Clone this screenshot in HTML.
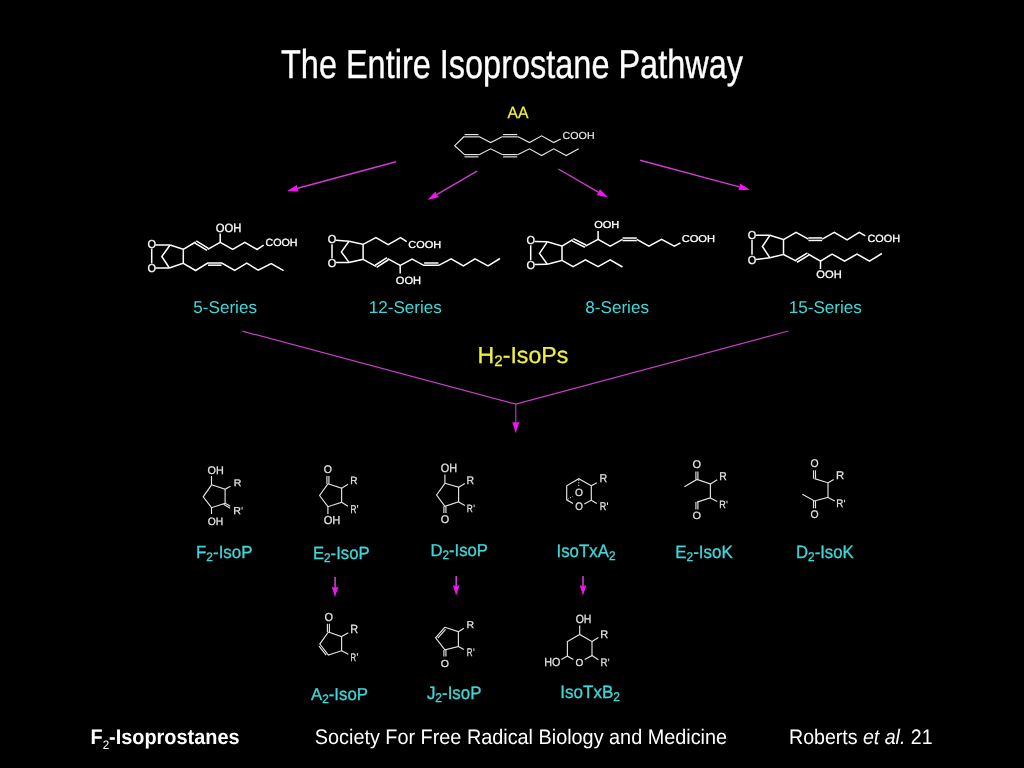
<!DOCTYPE html>
<html><head><meta charset="utf-8"><title>The Entire Isoprostane Pathway</title>
<style>
html,body{margin:0;padding:0;background:#000;width:1024px;height:768px;overflow:hidden}
svg{display:block;will-change:transform}
text{font-family:"Liberation Sans",sans-serif;text-rendering:geometricPrecision}
</style></head><body>
<svg width="1024" height="768" viewBox="0 0 1024 768">
<rect width="1024" height="768" fill="#000"/>
<text x="281.0" y="77.7" font-size="40.5" fill="#fff" stroke="#fff" stroke-width="0.35" textLength="462" lengthAdjust="spacingAndGlyphs">The Entire Isoprostane Pathway</text>
<text x="507.47" y="118.40" font-size="16.28" fill="#f0f040" textLength="20.96" lengthAdjust="spacingAndGlyphs" stroke="#f0f040" stroke-width="0.25">AA</text>
<polyline points="464.10,136.50 454.70,145.70 464.50,154.70" fill="none" stroke="#e4e4e4" stroke-width="1.15" />
<polyline points="478.90,136.50 490.60,142.60 502.70,136.50" fill="none" stroke="#e4e4e4" stroke-width="1.15" />
<polyline points="517.60,136.50 529.50,142.60 541.60,135.80 553.70,142.60 560.70,139.10" fill="none" stroke="#e4e4e4" stroke-width="1.15" />
<polyline points="479.00,154.70 490.60,148.80 502.70,154.70" fill="none" stroke="#e4e4e4" stroke-width="1.15" />
<polyline points="517.60,154.70 529.50,148.80 541.60,155.50 553.70,148.80 566.20,155.50 578.70,148.80" fill="none" stroke="#e4e4e4" stroke-width="1.15" />
<line x1="464.50" y1="134.60" x2="478.50" y2="134.60" stroke="#e4e4e4" stroke-width="1.15" />
<line x1="464.10" y1="136.80" x2="478.90" y2="136.80" stroke="#b0b0b0" stroke-width="1.5" />
<line x1="464.10" y1="154.60" x2="478.90" y2="154.60" stroke="#e4e4e4" stroke-width="1.15" />
<line x1="464.50" y1="156.80" x2="478.50" y2="156.80" stroke="#b0b0b0" stroke-width="1.5" />
<line x1="503.10" y1="134.60" x2="517.20" y2="134.60" stroke="#e4e4e4" stroke-width="1.15" />
<line x1="502.70" y1="136.80" x2="517.60" y2="136.80" stroke="#b0b0b0" stroke-width="1.5" />
<line x1="502.70" y1="154.60" x2="517.60" y2="154.60" stroke="#e4e4e4" stroke-width="1.15" />
<line x1="503.10" y1="156.80" x2="517.20" y2="156.80" stroke="#b0b0b0" stroke-width="1.5" />
<text x="562.63" y="138.90" font-size="10.10" fill="#e4e4e4" textLength="31.96" lengthAdjust="spacingAndGlyphs" stroke="#e4e4e4" stroke-width="0.2">COOH</text>
<line x1="396.00" y1="161.80" x2="296.75" y2="188.48" stroke="#d23ad2" stroke-width="1.4" />
<polygon points="287.00,191.10 296.93,184.91 297.24,188.35 298.70,191.48" fill="#f014f0"/>
<line x1="477.00" y1="171.20" x2="436.23" y2="194.92" stroke="#d23ad2" stroke-width="1.4" />
<polygon points="427.50,200.00 435.47,191.43 436.66,194.67 438.89,197.31" fill="#f014f0"/>
<line x1="558.30" y1="169.00" x2="599.15" y2="192.55" stroke="#d23ad2" stroke-width="1.4" />
<polygon points="607.90,197.60 596.50,194.95 598.72,192.31 599.90,189.06" fill="#f014f0"/>
<line x1="640.10" y1="160.30" x2="740.25" y2="187.18" stroke="#d23ad2" stroke-width="1.4" />
<polygon points="750.00,189.80 738.30,190.18 739.76,187.05 740.06,183.61" fill="#f014f0"/>
<text x="147.43" y="247.59" font-size="11.58" fill="#ffffff" textLength="8.55" lengthAdjust="spacingAndGlyphs" stroke="#ffffff" stroke-width="0.3">O</text>
<text x="147.43" y="272.29" font-size="11.58" fill="#ffffff" textLength="8.55" lengthAdjust="spacingAndGlyphs" stroke="#ffffff" stroke-width="0.3">O</text>
<line x1="151.70" y1="248.60" x2="151.70" y2="263.40" stroke="#ffffff" stroke-width="1.5" />
<line x1="155.40" y1="244.90" x2="170.10" y2="245.00" stroke="#ffffff" stroke-width="1.5" />
<line x1="155.40" y1="268.00" x2="169.40" y2="268.00" stroke="#ffffff" stroke-width="1.5" />
<polyline points="170.10,245.00 161.80,256.50 169.40,268.00" fill="none" stroke="#ffffff" stroke-width="1.5" />
<polyline points="170.10,245.00 183.30,249.30 183.30,263.30 169.40,268.00" fill="none" stroke="#ffffff" stroke-width="1.5" />
<polyline points="183.30,249.30 195.60,242.00" fill="none" stroke="#ffffff" stroke-width="1.5" />
<line x1="194.95" y1="243.07" x2="207.05" y2="250.47" stroke="#ffffff" stroke-width="1.5" />
<line x1="196.25" y1="240.93" x2="208.35" y2="248.33" stroke="#ffffff" stroke-width="1.5" />
<polyline points="207.70,249.40 220.20,242.30 232.70,249.40 244.80,242.30 257.00,249.50 263.70,245.20" fill="none" stroke="#ffffff" stroke-width="1.5" />
<line x1="220.20" y1="242.30" x2="220.20" y2="233.40" stroke="#ffffff" stroke-width="1.5" />
<text x="215.74" y="231.80" font-size="11.99" fill="#ffffff" textLength="25.60" lengthAdjust="spacingAndGlyphs" stroke="#ffffff" stroke-width="0.3">OOH</text>
<text x="265.43" y="245.70" font-size="10.39" fill="#ffffff" textLength="32.17" lengthAdjust="spacingAndGlyphs" stroke="#ffffff" stroke-width="0.3">COOH</text>
<polyline points="183.30,263.30 195.60,270.50 207.70,263.00 221.80,263.00 234.70,270.50 246.80,263.20 258.20,270.10 271.20,263.50 283.60,270.60" fill="none" stroke="#ffffff" stroke-width="1.5" />
<line x1="208.00" y1="265.20" x2="221.50" y2="265.20" stroke="#ffffff" stroke-width="1.5" />
<text x="327.73" y="243.09" font-size="11.58" fill="#ffffff" textLength="8.55" lengthAdjust="spacingAndGlyphs" stroke="#ffffff" stroke-width="0.3">O</text>
<text x="327.73" y="267.29" font-size="11.58" fill="#ffffff" textLength="8.55" lengthAdjust="spacingAndGlyphs" stroke="#ffffff" stroke-width="0.3">O</text>
<line x1="332.00" y1="244.20" x2="332.00" y2="258.30" stroke="#ffffff" stroke-width="1.5" />
<line x1="335.80" y1="240.20" x2="349.00" y2="241.20" stroke="#ffffff" stroke-width="1.5" />
<line x1="335.80" y1="262.60" x2="349.00" y2="262.40" stroke="#ffffff" stroke-width="1.5" />
<polyline points="349.00,241.20 341.40,251.90 349.00,262.40" fill="none" stroke="#ffffff" stroke-width="1.5" />
<polyline points="349.00,241.20 363.10,244.30 363.10,259.30 349.00,262.40" fill="none" stroke="#ffffff" stroke-width="1.5" />
<polyline points="363.10,244.30 375.90,237.70 388.20,244.70 400.50,237.60 406.70,241.70" fill="none" stroke="#ffffff" stroke-width="1.5" />
<text x="408.32" y="247.60" font-size="10.10" fill="#ffffff" textLength="32.80" lengthAdjust="spacingAndGlyphs" stroke="#ffffff" stroke-width="0.3">COOH</text>
<polyline points="363.10,259.30 375.90,266.30" fill="none" stroke="#ffffff" stroke-width="1.5" />
<line x1="376.58" y1="267.35" x2="388.38" y2="259.75" stroke="#ffffff" stroke-width="1.5" />
<line x1="375.22" y1="265.25" x2="387.02" y2="257.65" stroke="#ffffff" stroke-width="1.5" />
<polyline points="387.70,258.70 400.20,265.30 412.10,259.20 423.80,265.30 438.80,265.30 451.10,258.90 463.40,266.00 475.00,258.90 488.00,266.00 500.00,258.50" fill="none" stroke="#ffffff" stroke-width="1.5" />
<line x1="424.10" y1="263.00" x2="438.50" y2="263.00" stroke="#ffffff" stroke-width="1.5" />
<line x1="400.20" y1="265.30" x2="400.20" y2="273.50" stroke="#ffffff" stroke-width="1.5" />
<text x="395.75" y="283.50" font-size="10.54" fill="#ffffff" textLength="25.28" lengthAdjust="spacingAndGlyphs" stroke="#ffffff" stroke-width="0.3">OOH</text>
<text x="526.43" y="244.29" font-size="11.58" fill="#ffffff" textLength="8.55" lengthAdjust="spacingAndGlyphs" stroke="#ffffff" stroke-width="0.3">O</text>
<text x="526.43" y="269.09" font-size="11.58" fill="#ffffff" textLength="8.55" lengthAdjust="spacingAndGlyphs" stroke="#ffffff" stroke-width="0.3">O</text>
<line x1="530.70" y1="245.30" x2="530.70" y2="260.10" stroke="#ffffff" stroke-width="1.5" />
<line x1="534.60" y1="241.50" x2="547.30" y2="241.80" stroke="#ffffff" stroke-width="1.5" />
<line x1="534.60" y1="264.50" x2="547.30" y2="264.30" stroke="#ffffff" stroke-width="1.5" />
<polyline points="547.30,241.80 539.50,253.40 547.30,264.30" fill="none" stroke="#ffffff" stroke-width="1.5" />
<polyline points="547.30,241.80 562.00,246.10 562.00,260.40 547.30,264.30" fill="none" stroke="#ffffff" stroke-width="1.5" />
<polyline points="562.00,246.10 572.70,239.70" fill="none" stroke="#ffffff" stroke-width="1.5" />
<line x1="572.14" y1="240.82" x2="584.84" y2="247.22" stroke="#ffffff" stroke-width="1.5" />
<line x1="573.26" y1="238.58" x2="585.96" y2="244.98" stroke="#ffffff" stroke-width="1.5" />
<polyline points="585.40,246.10 598.10,239.30 610.20,246.10 622.50,239.30" fill="none" stroke="#ffffff" stroke-width="1.5" />
<line x1="622.50" y1="240.55" x2="636.80" y2="240.55" stroke="#ffffff" stroke-width="1.5" />
<line x1="622.50" y1="238.05" x2="636.80" y2="238.05" stroke="#ffffff" stroke-width="1.5" />
<polyline points="636.80,239.30 648.90,246.10 661.60,239.30 674.30,246.10 680.50,242.80" fill="none" stroke="#ffffff" stroke-width="1.5" />
<line x1="598.10" y1="239.30" x2="598.10" y2="231.10" stroke="#ffffff" stroke-width="1.5" />
<text x="594.25" y="228.00" font-size="10.10" fill="#ffffff" textLength="25.07" lengthAdjust="spacingAndGlyphs" stroke="#ffffff" stroke-width="0.3">OOH</text>
<text x="681.71" y="242.20" font-size="9.96" fill="#ffffff" textLength="33.32" lengthAdjust="spacingAndGlyphs" stroke="#ffffff" stroke-width="0.3">COOH</text>
<polyline points="562.00,260.40 573.10,266.60 585.40,259.80 598.10,266.60 610.20,259.80 622.50,267.00" fill="none" stroke="#ffffff" stroke-width="1.5" />
<text x="747.73" y="238.89" font-size="11.58" fill="#ffffff" textLength="8.55" lengthAdjust="spacingAndGlyphs" stroke="#ffffff" stroke-width="0.3">O</text>
<text x="747.73" y="263.79" font-size="11.58" fill="#ffffff" textLength="8.55" lengthAdjust="spacingAndGlyphs" stroke="#ffffff" stroke-width="0.3">O</text>
<line x1="752.00" y1="239.90" x2="752.00" y2="254.80" stroke="#ffffff" stroke-width="1.5" />
<line x1="756.00" y1="235.20" x2="769.90" y2="235.30" stroke="#ffffff" stroke-width="1.5" />
<line x1="756.00" y1="259.50" x2="769.90" y2="257.80" stroke="#ffffff" stroke-width="1.5" />
<polyline points="769.90,235.30 762.40,246.50 769.90,257.80" fill="none" stroke="#ffffff" stroke-width="1.5" />
<polyline points="769.90,235.30 783.50,239.60 783.50,254.50 769.90,257.80" fill="none" stroke="#ffffff" stroke-width="1.5" />
<polyline points="783.50,239.60 796.10,232.40 808.40,239.20" fill="none" stroke="#ffffff" stroke-width="1.5" />
<line x1="808.40" y1="240.45" x2="822.20" y2="240.45" stroke="#ffffff" stroke-width="1.5" />
<line x1="808.40" y1="237.95" x2="822.20" y2="237.95" stroke="#ffffff" stroke-width="1.5" />
<polyline points="822.20,239.20 834.30,232.40 847.10,239.90 859.20,232.40 865.30,235.80" fill="none" stroke="#ffffff" stroke-width="1.5" />
<text x="867.42" y="242.40" font-size="10.39" fill="#ffffff" textLength="32.69" lengthAdjust="spacingAndGlyphs" stroke="#ffffff" stroke-width="0.3">COOH</text>
<polyline points="783.50,254.50 796.40,261.20" fill="none" stroke="#ffffff" stroke-width="1.5" />
<line x1="797.06" y1="262.26" x2="808.76" y2="255.06" stroke="#ffffff" stroke-width="1.5" />
<line x1="795.74" y1="260.14" x2="807.44" y2="252.94" stroke="#ffffff" stroke-width="1.5" />
<polyline points="808.10,254.00 820.50,261.20 832.10,254.00 844.60,261.20 857.00,254.00 869.50,261.20 881.90,253.50" fill="none" stroke="#ffffff" stroke-width="1.5" />
<line x1="820.50" y1="261.20" x2="820.50" y2="269.00" stroke="#ffffff" stroke-width="1.5" />
<text x="816.35" y="278.40" font-size="10.83" fill="#ffffff" textLength="25.39" lengthAdjust="spacingAndGlyphs" stroke="#ffffff" stroke-width="0.3">OOH</text>
<text x="193.3" y="312.8" font-size="17.1" fill="#3ed8da">5-Series</text>
<text x="368.7" y="312.8" font-size="17.1" fill="#3ed8da">12-Series</text>
<text x="585.3" y="312.8" font-size="17.1" fill="#3ed8da">8-Series</text>
<text x="788.7" y="312.8" font-size="17.1" fill="#3ed8da">15-Series</text>
<polyline points="242.30,331.10 515.80,404.20 788.40,331.00" fill="none" stroke="#c83cc8" stroke-width="1.2" />
<line x1="515.80" y1="404.20" x2="515.80" y2="422.80" stroke="#c83cc8" stroke-width="1.1" />
<polygon points="515.80,433.30 512.30,422.30 515.80,422.30 519.30,422.30" fill="#f014f0"/>
<text x="477.6" y="363.4" font-size="23.1" fill="#f0f040" stroke="#f0f040" stroke-width="0.25">H<tspan font-size="15.2" dy="2.6">2</tspan><tspan dy="-2.6">-IsoPs</tspan></text>
<text x="207.56" y="473.80" font-size="10.97" fill="#e4e4e4" textLength="16.25" lengthAdjust="spacingAndGlyphs" stroke="#e4e4e4" stroke-width="0.25">OH</text>
<line x1="211.50" y1="476.00" x2="211.50" y2="484.80" stroke="#e4e4e4" stroke-width="1.15" />
<polyline points="211.50,484.80 225.10,489.20 225.10,503.30 211.50,507.70 203.20,496.80 211.50,484.80" fill="none" stroke="#e4e4e4" stroke-width="1.15" />
<line x1="225.10" y1="489.20" x2="230.50" y2="486.20" stroke="#e4e4e4" stroke-width="1.15" />
<text x="233.71" y="485.50" font-size="9.52" fill="#e4e4e4" textLength="7.60" lengthAdjust="spacingAndGlyphs" stroke="#e4e4e4" stroke-width="0.25">R</text>
<line x1="225.10" y1="503.30" x2="230.30" y2="506.30" stroke="#e4e4e4" stroke-width="1.15" />
<line x1="223.56" y1="504.37" x2="230.14" y2="508.17" stroke="#e4e4e4" stroke-width="1.15" />
<text x="233.20" y="513.60" font-size="9.96" fill="#e4e4e4" textLength="7.72" lengthAdjust="spacingAndGlyphs" stroke="#e4e4e4" stroke-width="0.25">R</text>
<line x1="242.10" y1="506.90" x2="242.10" y2="509.60" stroke="#e4e4e4" stroke-width="1.0" />
<line x1="211.50" y1="507.70" x2="211.50" y2="514.00" stroke="#e4e4e4" stroke-width="1.15" />
<text x="207.79" y="525.10" font-size="10.68" fill="#e4e4e4" textLength="15.48" lengthAdjust="spacingAndGlyphs" stroke="#e4e4e4" stroke-width="0.25">OH</text>
<text x="323.70" y="473.19" font-size="11.02" fill="#e4e4e4" textLength="8.20" lengthAdjust="spacingAndGlyphs" stroke="#e4e4e4" stroke-width="0.25">O</text>
<line x1="326.90" y1="476.00" x2="326.90" y2="483.80" stroke="#e4e4e4" stroke-width="1.15" />
<line x1="328.90" y1="476.00" x2="328.90" y2="483.80" stroke="#e4e4e4" stroke-width="1.15" />
<polyline points="327.90,483.80 341.60,488.20 341.60,502.30 327.90,506.70 319.60,495.50 327.90,483.80" fill="none" stroke="#e4e4e4" stroke-width="1.15" />
<line x1="341.60" y1="488.20" x2="348.00" y2="484.30" stroke="#e4e4e4" stroke-width="1.15" />
<text x="350.25" y="484.30" font-size="10.54" fill="#e4e4e4" textLength="7.24" lengthAdjust="spacingAndGlyphs" stroke="#e4e4e4" stroke-width="0.25">R</text>
<line x1="341.60" y1="502.30" x2="348.00" y2="506.30" stroke="#e4e4e4" stroke-width="1.15" />
<text x="350.40" y="512.60" font-size="11.26" fill="#e4e4e4" textLength="5.90" lengthAdjust="spacingAndGlyphs" stroke="#e4e4e4" stroke-width="0.25">R</text>
<line x1="357.60" y1="505.00" x2="357.60" y2="507.70" stroke="#e4e4e4" stroke-width="1.0" />
<line x1="327.90" y1="506.70" x2="327.90" y2="514.00" stroke="#e4e4e4" stroke-width="1.15" />
<text x="323.64" y="523.80" font-size="11.56" fill="#e4e4e4" textLength="16.79" lengthAdjust="spacingAndGlyphs" stroke="#e4e4e4" stroke-width="0.25">OH</text>
<text x="440.66" y="472.10" font-size="11.99" fill="#e4e4e4" textLength="16.36" lengthAdjust="spacingAndGlyphs" stroke="#e4e4e4" stroke-width="0.25">OH</text>
<line x1="444.90" y1="474.50" x2="444.90" y2="483.30" stroke="#e4e4e4" stroke-width="1.15" />
<polyline points="444.90,483.30 458.60,487.20 458.60,501.90 444.90,506.30 436.60,495.00 444.90,483.30" fill="none" stroke="#e4e4e4" stroke-width="1.15" />
<line x1="458.60" y1="487.20" x2="464.90" y2="483.50" stroke="#e4e4e4" stroke-width="1.15" />
<text x="466.61" y="483.80" font-size="10.97" fill="#e4e4e4" textLength="7.60" lengthAdjust="spacingAndGlyphs" stroke="#e4e4e4" stroke-width="0.25">R</text>
<line x1="458.60" y1="501.90" x2="464.90" y2="505.60" stroke="#e4e4e4" stroke-width="1.15" />
<text x="466.79" y="511.60" font-size="10.54" fill="#e4e4e4" textLength="6.02" lengthAdjust="spacingAndGlyphs" stroke="#e4e4e4" stroke-width="0.25">R</text>
<line x1="474.10" y1="504.50" x2="474.10" y2="507.20" stroke="#e4e4e4" stroke-width="1.0" />
<line x1="443.90" y1="506.30" x2="443.90" y2="513.10" stroke="#e4e4e4" stroke-width="1.15" />
<line x1="445.90" y1="506.30" x2="445.90" y2="513.10" stroke="#e4e4e4" stroke-width="1.15" />
<text x="440.69" y="522.99" font-size="11.16" fill="#e4e4e4" textLength="8.43" lengthAdjust="spacingAndGlyphs" stroke="#e4e4e4" stroke-width="0.25">O</text>
<polyline points="573.00,503.40 566.70,499.80 566.70,485.80 578.80,478.75 591.30,485.80 591.30,500.20 584.30,504.10" fill="none" stroke="#e4e4e4" stroke-width="1.15" />
<text x="575.14" y="510.49" font-size="11.02" fill="#e4e4e4" textLength="7.63" lengthAdjust="spacingAndGlyphs" stroke="#e4e4e4" stroke-width="0.25">O</text>
<line x1="591.30" y1="485.80" x2="596.80" y2="482.70" stroke="#e4e4e4" stroke-width="1.15" />
<text x="599.60" y="481.90" font-size="11.41" fill="#e4e4e4" textLength="7.72" lengthAdjust="spacingAndGlyphs" stroke="#e4e4e4" stroke-width="0.25">R</text>
<line x1="591.30" y1="500.20" x2="596.80" y2="503.40" stroke="#e4e4e4" stroke-width="1.15" />
<text x="599.74" y="510.00" font-size="11.41" fill="#e4e4e4" textLength="6.51" lengthAdjust="spacingAndGlyphs" stroke="#e4e4e4" stroke-width="0.25">R</text>
<line x1="607.50" y1="502.30" x2="607.50" y2="505.00" stroke="#e4e4e4" stroke-width="1.0" />
<text x="575.01" y="496.00" font-size="10.45" fill="#e4e4e4" textLength="7.98" lengthAdjust="spacingAndGlyphs" stroke="#e4e4e4" stroke-width="0.25">O</text>
<line x1="578.8" y1="479.6" x2="578.8" y2="487.4" stroke="#e4e4e4" stroke-width="1" stroke-dasharray="1.2 1.4"/>
<line x1="567.6" y1="499.3" x2="572.6" y2="496.6" stroke="#e4e4e4" stroke-width="1" stroke-dasharray="1.2 1.4"/>
<text x="692.58" y="468.19" font-size="11.16" fill="#e4e4e4" textLength="8.55" lengthAdjust="spacingAndGlyphs" stroke="#e4e4e4" stroke-width="0.25">O</text>
<line x1="695.90" y1="471.40" x2="695.90" y2="479.40" stroke="#e4e4e4" stroke-width="1.15" />
<line x1="697.90" y1="471.40" x2="697.90" y2="479.40" stroke="#e4e4e4" stroke-width="1.15" />
<polyline points="684.40,486.70 696.90,479.40 710.40,483.90 710.40,497.90 696.90,502.10" fill="none" stroke="#e4e4e4" stroke-width="1.15" />
<line x1="710.40" y1="483.90" x2="717.20" y2="479.70" stroke="#e4e4e4" stroke-width="1.15" />
<text x="719.13" y="479.70" font-size="11.26" fill="#e4e4e4" textLength="7.48" lengthAdjust="spacingAndGlyphs" stroke="#e4e4e4" stroke-width="0.25">R</text>
<line x1="710.40" y1="497.90" x2="717.20" y2="501.60" stroke="#e4e4e4" stroke-width="1.15" />
<text x="719.24" y="507.80" font-size="10.54" fill="#e4e4e4" textLength="6.51" lengthAdjust="spacingAndGlyphs" stroke="#e4e4e4" stroke-width="0.25">R</text>
<line x1="727.00" y1="500.70" x2="727.00" y2="503.40" stroke="#e4e4e4" stroke-width="1.0" />
<line x1="695.90" y1="502.10" x2="695.90" y2="509.40" stroke="#e4e4e4" stroke-width="1.15" />
<line x1="697.90" y1="502.10" x2="697.90" y2="509.40" stroke="#e4e4e4" stroke-width="1.15" />
<text x="692.58" y="519.00" font-size="10.45" fill="#e4e4e4" textLength="8.55" lengthAdjust="spacingAndGlyphs" stroke="#e4e4e4" stroke-width="0.25">O</text>
<text x="810.51" y="467.19" font-size="11.16" fill="#e4e4e4" textLength="8.09" lengthAdjust="spacingAndGlyphs" stroke="#e4e4e4" stroke-width="0.25">O</text>
<line x1="813.50" y1="470.30" x2="813.50" y2="478.60" stroke="#e4e4e4" stroke-width="1.15" />
<line x1="815.50" y1="470.30" x2="815.50" y2="478.60" stroke="#e4e4e4" stroke-width="1.15" />
<polyline points="814.50,478.60 828.00,482.80 828.00,497.40 814.50,501.00 802.30,494.30" fill="none" stroke="#e4e4e4" stroke-width="1.15" />
<line x1="828.00" y1="482.80" x2="833.75" y2="479.40" stroke="#e4e4e4" stroke-width="1.15" />
<text x="836.14" y="478.60" font-size="11.12" fill="#e4e4e4" textLength="8.21" lengthAdjust="spacingAndGlyphs" stroke="#e4e4e4" stroke-width="0.25">R</text>
<line x1="828.00" y1="497.40" x2="834.80" y2="501.00" stroke="#e4e4e4" stroke-width="1.15" />
<text x="836.27" y="507.10" font-size="10.97" fill="#e4e4e4" textLength="7.12" lengthAdjust="spacingAndGlyphs" stroke="#e4e4e4" stroke-width="0.25">R</text>
<line x1="844.60" y1="499.70" x2="844.60" y2="502.40" stroke="#e4e4e4" stroke-width="1.0" />
<line x1="813.50" y1="501.00" x2="813.50" y2="508.30" stroke="#e4e4e4" stroke-width="1.15" />
<line x1="815.50" y1="501.00" x2="815.50" y2="508.30" stroke="#e4e4e4" stroke-width="1.15" />
<text x="810.51" y="518.44" font-size="10.95" fill="#e4e4e4" textLength="8.09" lengthAdjust="spacingAndGlyphs" stroke="#e4e4e4" stroke-width="0.25">O</text>
<text x="324.48" y="621.49" font-size="11.58" fill="#e4e4e4" textLength="8.55" lengthAdjust="spacingAndGlyphs" stroke="#e4e4e4" stroke-width="0.25">O</text>
<line x1="327.40" y1="623.75" x2="327.40" y2="632.00" stroke="#e4e4e4" stroke-width="1.15" />
<line x1="329.40" y1="623.75" x2="329.40" y2="632.00" stroke="#e4e4e4" stroke-width="1.15" />
<polyline points="328.40,632.00 341.60,636.60 341.60,650.70 328.40,655.00 319.80,644.10 328.40,632.00" fill="none" stroke="#e4e4e4" stroke-width="1.15" />
<line x1="326.17" y1="655.23" x2="319.05" y2="646.22" stroke="#e4e4e4" stroke-width="1.15" />
<line x1="341.60" y1="636.60" x2="348.30" y2="632.70" stroke="#e4e4e4" stroke-width="1.15" />
<text x="350.28" y="632.70" font-size="11.99" fill="#e4e4e4" textLength="7.85" lengthAdjust="spacingAndGlyphs" stroke="#e4e4e4" stroke-width="0.25">R</text>
<line x1="341.60" y1="650.70" x2="348.30" y2="654.20" stroke="#e4e4e4" stroke-width="1.15" />
<text x="350.55" y="660.50" font-size="10.97" fill="#e4e4e4" textLength="5.53" lengthAdjust="spacingAndGlyphs" stroke="#e4e4e4" stroke-width="0.25">R</text>
<line x1="357.40" y1="653.10" x2="357.40" y2="655.80" stroke="#e4e4e4" stroke-width="1.0" />
<polyline points="444.90,627.20 458.40,631.70 458.40,646.50 444.90,649.90 435.60,637.80 444.90,627.20" fill="none" stroke="#e4e4e4" stroke-width="1.15" />
<line x1="445.54" y1="629.36" x2="437.82" y2="638.15" stroke="#e4e4e4" stroke-width="1.15" />
<line x1="458.40" y1="631.70" x2="463.90" y2="628.30" stroke="#e4e4e4" stroke-width="1.15" />
<text x="466.61" y="627.80" font-size="9.81" fill="#e4e4e4" textLength="7.60" lengthAdjust="spacingAndGlyphs" stroke="#e4e4e4" stroke-width="0.25">R</text>
<line x1="458.40" y1="646.50" x2="463.90" y2="649.40" stroke="#e4e4e4" stroke-width="1.15" />
<text x="466.82" y="655.80" font-size="11.12" fill="#e4e4e4" textLength="5.78" lengthAdjust="spacingAndGlyphs" stroke="#e4e4e4" stroke-width="0.25">R</text>
<line x1="473.90" y1="648.30" x2="473.90" y2="651.00" stroke="#e4e4e4" stroke-width="1.0" />
<line x1="443.90" y1="649.90" x2="443.90" y2="656.60" stroke="#e4e4e4" stroke-width="1.15" />
<line x1="445.90" y1="649.90" x2="445.90" y2="656.60" stroke="#e4e4e4" stroke-width="1.15" />
<text x="440.80" y="667.30" font-size="10.17" fill="#e4e4e4" textLength="8.20" lengthAdjust="spacingAndGlyphs" stroke="#e4e4e4" stroke-width="0.25">O</text>
<text x="575.68" y="623.20" font-size="11.85" fill="#e4e4e4" textLength="15.81" lengthAdjust="spacingAndGlyphs" stroke="#e4e4e4" stroke-width="0.25">OH</text>
<line x1="579.70" y1="625.50" x2="579.70" y2="634.40" stroke="#e4e4e4" stroke-width="1.15" />
<polyline points="573.30,659.50 567.40,656.10 567.40,641.50 579.70,634.40 592.00,641.50 592.00,655.60 584.70,659.50" fill="none" stroke="#e4e4e4" stroke-width="1.15" />
<text x="575.52" y="665.60" font-size="10.17" fill="#e4e4e4" textLength="7.86" lengthAdjust="spacingAndGlyphs" stroke="#e4e4e4" stroke-width="0.25">O</text>
<line x1="592.00" y1="641.50" x2="598.40" y2="637.40" stroke="#e4e4e4" stroke-width="1.15" />
<text x="600.37" y="637.60" font-size="10.97" fill="#e4e4e4" textLength="7.97" lengthAdjust="spacingAndGlyphs" stroke="#e4e4e4" stroke-width="0.25">R</text>
<line x1="592.00" y1="655.60" x2="598.40" y2="659.70" stroke="#e4e4e4" stroke-width="1.15" />
<text x="600.48" y="665.90" font-size="10.97" fill="#e4e4e4" textLength="6.99" lengthAdjust="spacingAndGlyphs" stroke="#e4e4e4" stroke-width="0.25">R</text>
<line x1="608.70" y1="658.50" x2="608.70" y2="661.20" stroke="#e4e4e4" stroke-width="1.0" />
<line x1="567.40" y1="656.10" x2="561.40" y2="659.50" stroke="#e4e4e4" stroke-width="1.15" />
<text x="544.29" y="665.90" font-size="11.70" fill="#e4e4e4" textLength="16.15" lengthAdjust="spacingAndGlyphs" stroke="#e4e4e4" stroke-width="0.25">HO</text>
<line x1="335.10" y1="576.90" x2="335.10" y2="588.40" stroke="#d23ad2" stroke-width="1.6" />
<polygon points="335.10,596.90 331.70,586.40 335.10,587.90 338.50,586.40" fill="#f014f0"/>
<line x1="456.20" y1="576.00" x2="456.20" y2="587.10" stroke="#d23ad2" stroke-width="1.6" />
<polygon points="456.20,595.60 452.80,585.10 456.20,586.60 459.60,585.10" fill="#f014f0"/>
<line x1="583.00" y1="576.00" x2="583.00" y2="587.10" stroke="#d23ad2" stroke-width="1.6" />
<polygon points="583.00,595.60 579.60,585.10 583.00,586.60 586.40,585.10" fill="#f014f0"/>
<text transform="translate(196.01,557.50) scale(0.9955,1.0303)" x="0" y="0" font-size="17.0" fill="#3ed8da" stroke="#3ed8da" stroke-width="0.3">F<tspan font-size="12.0" dy="3.0">2</tspan><tspan dy="-3.0">-IsoP</tspan></text>
<text transform="translate(312.88,558.55) scale(0.9829,1.0431)" x="0" y="0" font-size="17.0" fill="#3ed8da" stroke="#3ed8da" stroke-width="0.3">E<tspan font-size="12.0" dy="3.0">2</tspan><tspan dy="-3.0">-IsoP</tspan></text>
<text transform="translate(430.38,556.20) scale(0.9807,1.0132)" x="0" y="0" font-size="17.0" fill="#3ed8da" stroke="#3ed8da" stroke-width="0.3">D<tspan font-size="12.0" dy="3.0">2</tspan><tspan dy="-3.0">-IsoP</tspan></text>
<text transform="translate(556.50,556.55) scale(0.9904,1.0602)" x="0" y="0" font-size="17.0" fill="#3ed8da" stroke="#3ed8da" stroke-width="0.3">IsoTxA<tspan font-size="12.0" dy="3.0">2</tspan></text>
<text transform="translate(675.16,557.60) scale(0.9972,1.0559)" x="0" y="0" font-size="17.0" fill="#3ed8da" stroke="#3ed8da" stroke-width="0.3">E<tspan font-size="12.0" dy="3.0">2</tspan><tspan dy="-3.0">-IsoK</tspan></text>
<text transform="translate(795.98,557.50) scale(0.9843,1.0474)" x="0" y="0" font-size="17.0" fill="#3ed8da" stroke="#3ed8da" stroke-width="0.3">D<tspan font-size="12.0" dy="3.0">2</tspan><tspan dy="-3.0">-IsoK</tspan></text>
<text transform="translate(310.92,699.60) scale(0.9892,1.0132)" x="0" y="0" font-size="17.0" fill="#3ed8da" stroke="#3ed8da" stroke-width="0.3">A<tspan font-size="12.0" dy="3.0">2</tspan><tspan dy="-3.0">-IsoP</tspan></text>
<text transform="translate(426.89,698.60) scale(0.9955,1.0645)" x="0" y="0" font-size="17.0" fill="#3ed8da" stroke="#3ed8da" stroke-width="0.3">J<tspan font-size="12.0" dy="3.0">2</tspan><tspan dy="-3.0">-IsoP</tspan></text>
<text transform="translate(560.33,697.80) scale(1.0000,1.0474)" x="0" y="0" font-size="17.0" fill="#3ed8da" stroke="#3ed8da" stroke-width="0.3">IsoTxB<tspan font-size="12.0" dy="3.0">2</tspan></text>
<text transform="translate(90.5,744.0) scale(1,1.06)" x="0" y="0" font-size="19.9" fill="#fff" font-weight="bold">F<tspan font-size="11.6" font-weight="normal" dy="4.9">2</tspan><tspan dy="-4.9">-Isoprostanes</tspan></text>
<text transform="translate(314.8,744.0) scale(1.0025,1.06)" x="0" y="0" font-size="19.8" fill="#fff">Society For Free Radical Biology and Medicine</text>
<text transform="translate(789.0,744.0) scale(0.989,1.06)" x="0" y="0" font-size="19.8" fill="#fff">Roberts <tspan font-style="italic">et al.</tspan> 21</text>
</svg>
</body></html>
